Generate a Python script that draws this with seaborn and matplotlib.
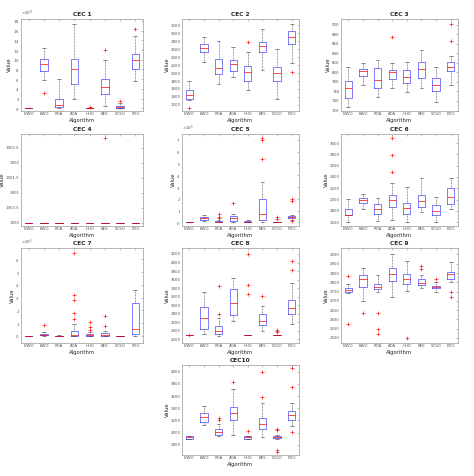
import numpy as np
import pandas as pd
import matplotlib
matplotlib.use("Agg")
import matplotlib.pyplot as plt
import seaborn as sns
from matplotlib.ticker import MultipleLocator, ScalarFormatter, FuncFormatter

ALGS = ["IBWO", "BWO", "ROA", "AOA", "HHO", "BES", "SCSO", "PDO"]
TITLES = ["CEC 1", "CEC 2", "CEC 3", "CEC 4", "CEC 5",
          "CEC 6", "CEC 7", "CEC 8", "CEC 9", "CEC10"]

# ---- CEC 1 (values in units of 1e9) ----
c1_lo  = [0.00, 5.8, 0.0, 1.9, 0.00, 0.5, 0.05, 5.7]
c1_q1  = [0.01, 7.7, 0.2, 5.1, 0.02, 2.9, 0.10, 8.0]
c1_med = [0.02, 9.2, 0.6, 8.2, 0.04, 4.3, 0.30, 9.9]
c1_q3  = [0.03, 10.1, 1.9, 10.2, 0.06, 6.0, 0.50, 11.2]
c1_hi  = [0.05, 12.5, 6.0, 17.3, 0.10, 10.0, 1.0, 14.9]
c1_out = [[], [3.1], [], [], [0.3], [12.1], [1.6], [16.4]]

# ---- CEC 2 ----
c2_lo  = [1330, 2283, 1725, 1892, 1567, 2075, 1358, 2250]
c2_q1  = [1350, 2533, 1975, 2050, 1808, 2517, 1808, 2717]
c2_med = [1450, 2617, 2125, 2233, 2033, 2683, 1992, 2908]
c2_q3  = [1575, 2717, 2350, 2333, 2167, 2783, 2150, 3050]
c2_hi  = [1800, 2892, 2808, 2658, 2517, 3100, 2608, 3233]
c2_out = [[1120], [], [], [], [2767], [], [], [2033]]

# ---- CEC 3 ----
c3_lo  = [728, 773, 748, 767, 759, 767, 737, 774]
c3_q1  = [747, 792, 768, 786, 777, 788, 760, 803]
c3_med = [767, 803, 783, 801, 790, 807, 774, 812]
c3_q3  = [782, 807, 810, 806, 804, 821, 788, 821]
c3_hi  = [812, 819, 826, 819, 821, 847, 812, 834]
c3_out = [[], [], [], [874], [], [], [], [866, 902]]

# ---- CEC 4 ----
c4_lo  = [1900.0] * 8
c4_q1  = [1900.0] * 8
c4_med = [1900.0] * 8
c4_q3  = [1900.0] * 8
c4_hi  = [1900.0] * 8
c4_out = [[], [], [], [], [], [1902.82], [], []]

# ---- CEC 5 (values in units of 1e5) ----
c5_lo  = [0.00, 0.11, 0.00, 0.00, 0.00, 0.00, 0.00, 0.20]
c5_q1  = [0.01, 0.23, 0.00, 0.11, 0.00, 0.20, 0.00, 0.42]
c5_med = [0.02, 0.34, 0.06, 0.42, 0.06, 0.68, 0.01, 0.50]
c5_q3  = [0.03, 0.48, 0.11, 0.54, 0.14, 1.98, 0.02, 0.57]
c5_hi  = [0.04, 0.62, 0.20, 0.74, 0.20, 3.40, 0.03, 0.62]
c5_out = [[], [], [0.34, 0.48, 0.68], [1.67], [], [5.4, 7.0, 7.2],
          [0.3, 0.5], [1.8, 1.95, 0.1]]

# ---- CEC 6 ----
c6_lo  = [1605, 1835, 1629, 1647, 1612, 1776, 1612, 1835]
c6_q1  = [1730, 1941, 1753, 1871, 1753, 1865, 1735, 1929]
c6_med = [1737, 1988, 1829, 1994, 1853, 1976, 1806, 2047]
c6_q3  = [1830, 2029, 1924, 2088, 1947, 2076, 1906, 2200]
c6_hi  = [2018, 2094, 2024, 2288, 2218, 2388, 2047, 2388]
c6_out = [[], [], [], [2488, 2794, 3088], [], [], [], []]

# ---- CEC 7 (values in units of 1e5) ----
c7_lo  = [0.00, 0.02, 0.00, 0.00, 0.00, 0.00, 0.00, 0.00]
c7_q1  = [0.00, 0.05, 0.01, 0.00, 0.03, 0.03, 0.00, 0.18]
c7_med = [0.01, 0.10, 0.02, 0.08, 0.10, 0.10, 0.01, 0.57]
c7_q3  = [0.02, 0.16, 0.03, 0.42, 0.18, 0.24, 0.02, 2.56]
c7_hi  = [0.03, 0.30, 0.04, 0.94, 0.31, 0.39, 0.03, 3.58]
c7_out = [[], [0.9], [], [1.36, 1.8, 2.8, 3.2, 6.5], [0.5, 0.7, 1.1],
          [0.75, 1.6], [], []]

# ---- CEC 8 ----
c8_lo  = [2296, 2316, 2270, 2634, 2297, 2386, 2297, 2557]
c8_q1  = [2299, 2448, 2332, 2781, 2299, 2526, 2299, 2797]
c8_med = [2300, 2696, 2394, 3060, 2300, 2619, 2300, 2944]
c8_q3  = [2301, 2952, 2502, 3370, 2301, 2789, 2302, 3115]
c8_hi  = [2304, 3300, 2700, 3642, 2304, 2991, 2305, 3525]
c8_out = [[2312], [], [2800, 3440], [], [3262, 3471, 4208], [3223],
          [2370, 2394, 2425], [3820, 4045]]

# ---- CEC 9 ----
c9_lo  = [2740, 2701, 2746, 2722, 2754, 2772, 2746, 2800]
c9_q1  = [2746, 2776, 2763, 2808, 2790, 2785, 2767, 2820]
c9_med = [2758, 2817, 2776, 2843, 2817, 2799, 2776, 2843]
c9_q3  = [2767, 2840, 2792, 2879, 2847, 2817, 2781, 2856]
c9_hi  = [2790, 2875, 2838, 2952, 2915, 2840, 2800, 2907]
c9_out = [[2575, 2834], [2633], [2521, 2550, 2635], [], [2500],
          [2874, 2886], [2817], [2719, 2749]]

# ---- CEC 10 ----
c10_lo  = [2890, 3123, 2937, 2964, 2885, 2932, 2890, 3112]
c10_q1  = [2899, 3173, 2953, 3200, 2893, 3063, 2904, 3205]
c10_med = [2932, 3260, 3003, 3315, 2920, 3140, 2926, 3293]
c10_q3  = [2942, 3326, 3052, 3414, 2942, 3244, 2942, 3359]
c10_hi  = [2950, 3441, 3140, 3715, 2950, 3479, 2964, 3485]
c10_out = [[], [], [3205, 3233], [3825], [3030], [3584, 3995],
           [2674, 2712, 3036, 3063], [3003, 3753, 4060]]

PANEL_STATS = [
    (c1_lo, c1_q1, c1_med, c1_q3, c1_hi, c1_out),
    (c2_lo, c2_q1, c2_med, c2_q3, c2_hi, c2_out),
    (c3_lo, c3_q1, c3_med, c3_q3, c3_hi, c3_out),
    (c4_lo, c4_q1, c4_med, c4_q3, c4_hi, c4_out),
    (c5_lo, c5_q1, c5_med, c5_q3, c5_hi, c5_out),
    (c6_lo, c6_q1, c6_med, c6_q3, c6_hi, c6_out),
    (c7_lo, c7_q1, c7_med, c7_q3, c7_hi, c7_out),
    (c8_lo, c8_q1, c8_med, c8_q3, c8_hi, c8_out),
    (c9_lo, c9_q1, c9_med, c9_q3, c9_hi, c9_out),
    (c10_lo, c10_q1, c10_med, c10_q3, c10_hi, c10_out),
]
SCALE_EXP = [9, 0, 0, 0, 5, 0, 5, 0, 0, 0]
YLIMS = [(-0.55, 18.4), (1050, 3350), (719, 912), (1899.9, 1902.95),
         (-0.3, 7.5), (1535, 3159), (-0.55, 6.9), (2115, 4340),
         (2473, 2985), (2630, 4110)]
YSTEPS = [2, 200, 20, 0.5, 1, 200, 1, 200, 50, 200]

# axes rectangles in pixels: left, top, right, bottom
W, H = 474, 476
COLS = [(21, 143), (182, 299), (341, 458)]
ROWS = [(19, 111), (134, 226), (248, 343), (365, 455)]
GRID = [(0, 0), (0, 1), (0, 2), (1, 0), (1, 1), (1, 2),
        (2, 0), (2, 1), (2, 2), (3, 1)]

sns.set_style("white")
plt.rcParams["font.family"] = ["DejaVu Sans"]
plt.rcParams.update({
    "xtick.direction": "in", "ytick.direction": "in",
    "xtick.top": True, "ytick.right": True,
    "xtick.major.size": 1.5, "ytick.major.size": 1.5,
    "xtick.major.width": 0.4, "ytick.major.width": 0.4,
    "xtick.color": "#888888", "ytick.color": "#888888",
    "xtick.labelcolor": "#555555", "ytick.labelcolor": "#555555",
    "axes.edgecolor": "#999999", "axes.linewidth": 0.5,
})

fig = plt.figure(figsize=(W / 100, H / 100), dpi=100)
M = 20

for k, (stats, exp) in enumerate(zip(PANEL_STATS, SCALE_EXP)):
    lo, q1, med, q3, hi, out = stats
    factor = 10.0 ** exp
    r, c = GRID[k]
    l, rr = COLS[c]
    t, b = ROWS[r]
    ax = fig.add_axes([l / W, 1 - b / H, (rr - l) / W, (b - t) / H])
    for i, alg in enumerate(ALGS):
        vals = [lo[i]] + [q1[i]] * M + [med[i]] * M + [q3[i]] * M + [hi[i]] + list(out[i])
        df = pd.DataFrame({"Algorithm": [alg] * len(vals),
                           "Value": [v * factor for v in vals]})
        iqr = q3[i] - q1[i]
        if iqr > 0:
            w = max((hi[i] - q3[i]) / iqr, (q1[i] - lo[i]) / iqr) * 1.0001 + 1e-6
        else:
            w = 1.5
        sns.boxplot(data=df, x="Algorithm", y="Value", order=ALGS, ax=ax,
                    width=0.5, fill=False, whis=w, linecolor="#4a4aff",
                    linewidth=0.5, fliersize=2.2,
                    boxprops=dict(color="#4a4aff", linewidth=0.5),
                    medianprops=dict(color="red", linewidth=0.5),
                    whiskerprops=dict(color="#333333", linestyle=(0, (1.5, 1.2)), linewidth=0.4),
                    capprops=dict(color="#333333", linewidth=0.4),
                    flierprops=dict(marker="+", markeredgecolor="red",
                                    markerfacecolor="red", markeredgewidth=0.4))
    ax.set_ylim(YLIMS[k][0] * factor, YLIMS[k][1] * factor)
    ax.set_xlim(-0.5, 7.5)
    ax.yaxis.set_major_locator(MultipleLocator(YSTEPS[k] * factor))
    if exp:
        fmt = ScalarFormatter(useMathText=True)
        fmt.set_powerlimits((exp, exp))
        ax.yaxis.set_major_formatter(fmt)
        ax.yaxis.get_offset_text().set_fontsize(2.9)
        ax.yaxis.get_offset_text().set_color("#555555")
    else:
        ax.yaxis.set_major_formatter(FuncFormatter(lambda v, p: "%g" % v))
    ax.tick_params(labelsize=2.8, pad=1.0)
    ax.set_title(TITLES[k], fontsize=4.2, fontweight="bold", pad=2)
    ax.set_xlabel("Algorithm", fontsize=3.8, labelpad=1)
    ax.set_ylabel("Value", fontsize=3.8, labelpad=0.6)
    for s in ax.spines.values():
        s.set_visible(True)
        s.set_color("#999999")
        s.set_linewidth(0.5)

fig.savefig("out.png", dpi=100)
